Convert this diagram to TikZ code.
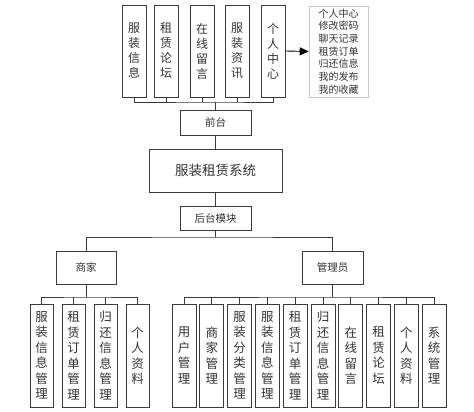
\documentclass[tikz,border=0pt]{standalone}
\usepackage{fontspec}
\setmainfont{Noto Sans CJK SC}
\usetikzlibrary{shadows,arrows.meta}
\definecolor{ln}{HTML}{3A3A3A}
\definecolor{tx}{HTML}{333333}
\tikzset{
  box/.style={draw=ln, line width=0.8pt, fill=white, text=tx, inner sep=0pt, align=center},
  vbox/.style={box, minimum width=24pt, font=\fontsize{12}{15}\selectfont},
  topbox/.style={vbox, minimum height=92pt},
  botbox/.style={vbox, minimum height=103pt, font=\fontsize{12.5}{15.5}\selectfont},
  hbox/.style={box, font=\fontsize{10.5}{12}\selectfont},
  conn/.style={draw=ln, line width=0.8pt},
}
\begin{document}
\begin{tikzpicture}[x=1pt,y=-1pt]
\useasboundingbox (0,0) rectangle (474,412);
\fill[white] (0,0) rectangle (474,412);
% top row
\node[topbox] (t1) at (134,51) {服\\装\\信\\息};
\node[topbox] (t2) at (166,51) {租\\赁\\论\\坛};
\node[topbox] (t3) at (202,51) {在\\线\\留\\言};
\node[topbox] (t4) at (237,51) {服\\装\\资\\讯};
\node[topbox] (t5) at (273,51) {个\\人\\中\\心};
\node[draw=gray!45, line width=0.6pt, fill=white, text=tx, inner sep=0pt, minimum width=59pt, minimum height=91pt, align=left,
  font=\fontsize{10}{12.7}\selectfont, drop shadow={opacity=0.25, shadow xshift=1.2pt, shadow yshift=-1.2pt}]
  (info) at (338.5,51.5) {个人中心\\修改密码\\聊天记录\\租赁订单\\归还信息\\我的发布\\我的收藏};
\draw[draw=black, line width=0.9pt, -{Triangle[length=9pt,width=8pt]}] (t5.east) -- (info.west);
% middle
\node[hbox, minimum width=71pt, minimum height=25pt] (qt) at (215.5,122.5) {前台};
\node[box, minimum width=133pt, minimum height=43pt, font=\fontsize{13.5}{15}\selectfont] (sys) at (215.5,170.5) {服装租赁系统};
\node[hbox, minimum width=71pt, minimum height=24pt] (ht) at (215.5,218) {后台模块};
\node[hbox, minimum width=60pt, minimum height=33pt] (sj) at (86,267.5) {商家};
\node[hbox, minimum width=61pt, minimum height=33pt] (gl) at (332.5,267.5) {管理员};
% top connectors
\coordinate (tb) at (215.5,102);
\draw[conn] (t1.south) |- (tb) -| (t5.south);
\foreach \n in {t2,t3,t4} \draw[conn] (\n.south) -- (\n.south |- tb);
\draw[conn] (tb) -- (qt.north);
\draw[conn] (qt.south) -- (sys.north);
\draw[conn] (sys.south) -- (ht.north);
\coordinate (mb) at (215.5,237);
\draw[conn] (ht.south) -- (mb);
\draw[conn] (sj.north) |- (mb) -| (gl.north);
% merchant boxes
\node[botbox, minimum width=23pt] (m1) at (41.5,355.5) {服\\装\\信\\息\\管\\理};
\node[botbox, minimum width=23pt] (m2) at (73.5,355.5) {租\\赁\\订\\单\\管\\理};
\node[botbox, minimum width=23pt] (m3) at (105.5,355.5) {归\\还\\信\\息\\管\\理};
\node[botbox, minimum width=23pt] (m4) at (137.5,355.5) {个\\人\\资\\料};
\coordinate (sb) at (86,297);
\draw[conn] (sj.south) -- (sb);
\draw[conn] (m1.north) |- (sb) -| (m4.north);
\foreach \n in {m2,m3} \draw[conn] (\n.north) -- (\n.north |- sb);
% admin boxes
\node[botbox] (a1) at (184,355.5) {用\\户\\管\\理};
\node[botbox] (a2) at (211.8,355.5) {商\\家\\管\\理};
\node[botbox] (a3) at (239.6,355.5) {服\\装\\分\\类\\管\\理};
\node[botbox] (a4) at (267.4,355.5) {服\\装\\信\\息\\管\\理};
\node[botbox] (a5) at (295.2,355.5) {租\\赁\\订\\单\\管\\理};
\node[botbox] (a6) at (323,355.5) {归\\还\\信\\息\\管\\理};
\node[botbox] (a7) at (350.8,355.5) {在\\线\\留\\言};
\node[botbox] (a8) at (378.6,355.5) {租\\赁\\论\\坛};
\node[botbox] (a9) at (406.4,355.5) {个\\人\\资\\料};
\node[botbox] (a10) at (434.2,355.5) {系\\统\\管\\理};
\coordinate (ab) at (332.5,297);
\draw[conn] (gl.south) -- (ab);
\draw[conn] (a1.north) |- (ab) -| (a10.north);
\foreach \n in {a2,a3,a4,a5,a6,a7,a8,a9} \draw[conn] (\n.north) -- (\n.north |- ab);
\end{tikzpicture}
\end{document}
